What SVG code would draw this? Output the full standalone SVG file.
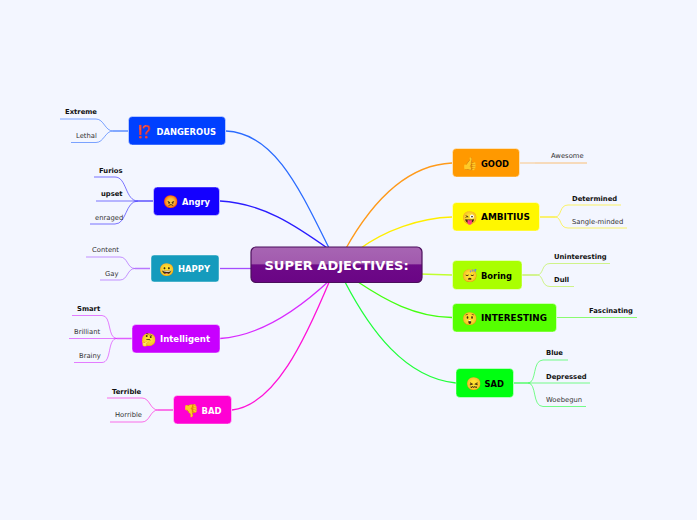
<svg xmlns="http://www.w3.org/2000/svg" width="697" height="520" viewBox="0 0 697 520">
<defs>
<linearGradient id="cg" x1="0" y1="0" x2="0" y2="1">
<stop offset="0" stop-color="#a765b3"/><stop offset="0.48" stop-color="#a25aae"/><stop offset="0.5" stop-color="#6e0a88"/><stop offset="1" stop-color="#6a0585"/>
</linearGradient>
</defs>
<style>
text{font-family:"DejaVu Sans",Verdana,sans-serif}
.n{font-size:8.7px;font-weight:700}
.w{fill:#fff}.k{fill:#000}
.e{font-size:12.5px;text-anchor:middle;font-family:"Noto Color Emoji","DejaVu Sans",sans-serif}
.l{font-size:6.8px;fill:#333}
.b{font-size:6.8px;font-weight:700;fill:#111}
.c{fill:none;stroke-width:1.3}
.t{fill:none;stroke-width:1;opacity:.6}
.h{fill:none;stroke-width:1.5;opacity:.75}
.r{stroke-width:1;stroke-opacity:.45}
</style>
<rect width="697" height="520" fill="#f3f6ff"/>
<g id="connectors">
<path class="c" stroke="#2a6bff" d="M226 131C275 133 300 190 330 250"/>
<path class="c" stroke="#2a1cff" d="M220 201C262 203 295 225 330 250"/>
<path class="c" stroke="#a44dff" d="M220 268.500H252"/>
<path class="c" stroke="#d82bff" d="M220 338.500C262 336 300 308 330 280"/>
<path class="c" stroke="#ff12d8" d="M232 410C275 405 305 340 330 280"/>
<path class="c" stroke="#ff9a1a" d="M452 163C405 165 370 205 345 250"/>
<path class="c" stroke="#ffee00" d="M452 217C420 218 385 230 358 250"/>
<path class="c" stroke="#c0ff30" d="M452 275L420 274"/>
<path class="c" stroke="#44ff10" d="M452 317.500C415 317 385 300 358 282"/>
<path class="c" stroke="#20ff3a" d="M456 383C405 378 370 330 345 282"/>
<g stroke="#2a6bff"><path class="t" d="M60 119H96C104 119 105 131 113 131M71 142.500H96C104 142.500 105 131 113 131"/><path class="h" d="M113 131H128"/></g>
<g stroke="#2a1cff"><path class="t" d="M94 177H115C127 177 125 201 138 201M96 201H138M90 224H115C127 224 125 201 138 201"/><path class="h" d="M138 201H153"/></g>
<g stroke="#a44dff"><path class="t" d="M86 257H120C128 257 127 268.500 135 268.500M100 280H120C128 280 127 268.500 135 268.500"/><path class="h" d="M135 268.500H150"/></g>
<g stroke="#d82bff"><path class="t" d="M72 315.500H102C112 315.500 107 338.500 117 338.500M69 338.500H117M74 362.500H102C112 362.500 107 338.500 117 338.500"/><path class="h" d="M117 338.500H132"/></g>
<g stroke="#ff12d8"><path class="t" d="M107 398H142C150 398 150 410 158 410M110 422H142C150 422 150 410 158 410"/><path class="h" d="M158 410H173"/></g>
<g stroke="#ff9a1a"><path class="t" d="M535 163H587" opacity=".5"/><path class="h" style="opacity:.35" d="M520 163H535"/></g>
<g stroke="#ffee00"><path class="t" d="M555 217C562 217 559 205 568 205H621M555 217C562 217 559 228 568 228H627"/><path class="h" d="M540 217H555"/></g>
<g stroke="#b8f23a"><path class="t" d="M537 275C544 275 541 263.500 550 263.500H610M537 275C544 275 541 286.500 550 286.500H574"/><path class="h" d="M522 275H537"/></g>
<g stroke="#44ff10"><path class="t" d="M557 317.500H637"/></g>
<g stroke="#20ff3a"><path class="t" d="M528 383C537 383 532 360 543 360H568M528 383H590M528 383C537 383 532 406.500 543 406.500H586"/><path class="h" d="M514 383H528"/></g>
</g>
<g id="center"><rect x="251" y="247" width="171" height="35.500" rx="5" fill="url(#cg)" stroke="#4b0f5c" stroke-width="1.200"/><text x="264.500" y="269.500" font-size="13" font-weight="700" fill="#fff">SUPER ADJECTIVES:</text></g>
<g id="n-dangerous"><rect class="r" x="128.500" y="116.500" width="97" height="28.500" rx="4" fill="#0040ff" stroke="#fff"/><text class="e" x="145" y="136">⁉️</text><text class="n w" x="156.500" y="134.500" textLength="59.500" lengthAdjust="spacingAndGlyphs">DANGEROUS</text></g>
<g id="n-angry"><rect class="r" x="153.500" y="187" width="66" height="28.500" rx="4" fill="#1400ff" stroke="#fff"/><text class="e" x="171" y="206">😡</text><text class="n w" x="182" y="204.500" textLength="28" lengthAdjust="spacingAndGlyphs">Angry</text></g>
<g id="n-happy"><rect class="r" x="151" y="255" width="68" height="27" rx="3" fill="#149bbd" stroke="#fff"/><text class="e" x="167" y="273.500">😀</text><text class="n w" x="178" y="272" textLength="32" lengthAdjust="spacingAndGlyphs">HAPPY</text></g>
<g id="n-intelligent"><rect class="r" x="132" y="324.500" width="88" height="28.500" rx="4" fill="#c800ff" stroke="#fff"/><text class="e" x="149" y="343.500">🤔</text><text class="n w" x="160" y="342" textLength="50" lengthAdjust="spacingAndGlyphs">Intelligent</text></g>
<g id="n-bad"><rect class="r" x="173.500" y="395.500" width="58" height="28.500" rx="4" fill="#ff00d4" stroke="#fff"/><text class="e" x="191" y="415">👎</text><text class="n w" x="201.500" y="413.500" textLength="20" lengthAdjust="spacingAndGlyphs">BAD</text></g>
<g id="n-good"><rect class="r" x="452.500" y="148.500" width="67" height="28.500" rx="4" fill="#ff9900" stroke="#fff"/><text class="e" x="470" y="168">👍</text><text class="n k" x="481" y="166.500" textLength="28" lengthAdjust="spacingAndGlyphs">GOOD</text></g>
<g id="n-ambitius"><rect class="r" x="452.500" y="202.500" width="87" height="28.500" rx="4" fill="#fff700" stroke="#fff"/><text class="e" x="470" y="222">😜</text><text class="n k" x="481" y="220" textLength="49" lengthAdjust="spacingAndGlyphs">AMBITIUS</text></g>
<g id="n-boring"><rect class="r" x="452.500" y="260.500" width="69.500" height="29" rx="4" fill="#aaff00" stroke="#fff"/><text class="e" x="470" y="280">😴</text><text class="n k" x="481" y="278.500" textLength="31" lengthAdjust="spacingAndGlyphs">Boring</text></g>
<g id="n-interesting"><rect class="r" x="452.500" y="303.500" width="104" height="28.500" rx="4" fill="#55ff00" stroke="#fff"/><text class="e" x="470" y="322.500">😲</text><text class="n k" x="481" y="321" textLength="66" lengthAdjust="spacingAndGlyphs">INTERESTING</text></g>
<g id="n-sad"><rect class="r" x="456" y="368.500" width="57.500" height="29" rx="4" fill="#00ff11" stroke="#fff"/><text class="e" x="474" y="388">😖</text><text class="n k" x="484.500" y="386.500" textLength="19.500" lengthAdjust="spacingAndGlyphs">SAD</text></g>
<g id="leaves">
<text class="b" x="65" y="114">Extreme</text>
<text class="l" x="76" y="138">Lethal</text>
<text class="b" x="99" y="173">Furios</text>
<text class="b" x="101" y="196">upset</text>
<text class="l" x="95" y="220">enraged</text>
<text class="l" x="92" y="252">Content</text>
<text class="l" x="105" y="276">Gay</text>
<text class="b" x="77" y="311">Smart</text>
<text class="l" x="74" y="334">Brilliant</text>
<text class="l" x="79" y="358">Brainy</text>
<text class="b" x="112" y="394">Terrible</text>
<text class="l" x="115" y="417">Horrible</text>
<text class="l" x="551" y="158">Awesome</text>
<text class="b" x="572" y="201">Determined</text>
<text class="l" x="572" y="224">Sangle-minded</text>
<text class="b" x="554" y="259">Uninteresting</text>
<text class="b" x="554" y="282">Dull</text>
<text class="b" x="589" y="313">Fascinating</text>
<text class="b" x="546" y="355">Blue</text>
<text class="b" x="546" y="379">Depressed</text>
<text class="l" x="546" y="402">Woebegun</text>
</g>
</svg>
